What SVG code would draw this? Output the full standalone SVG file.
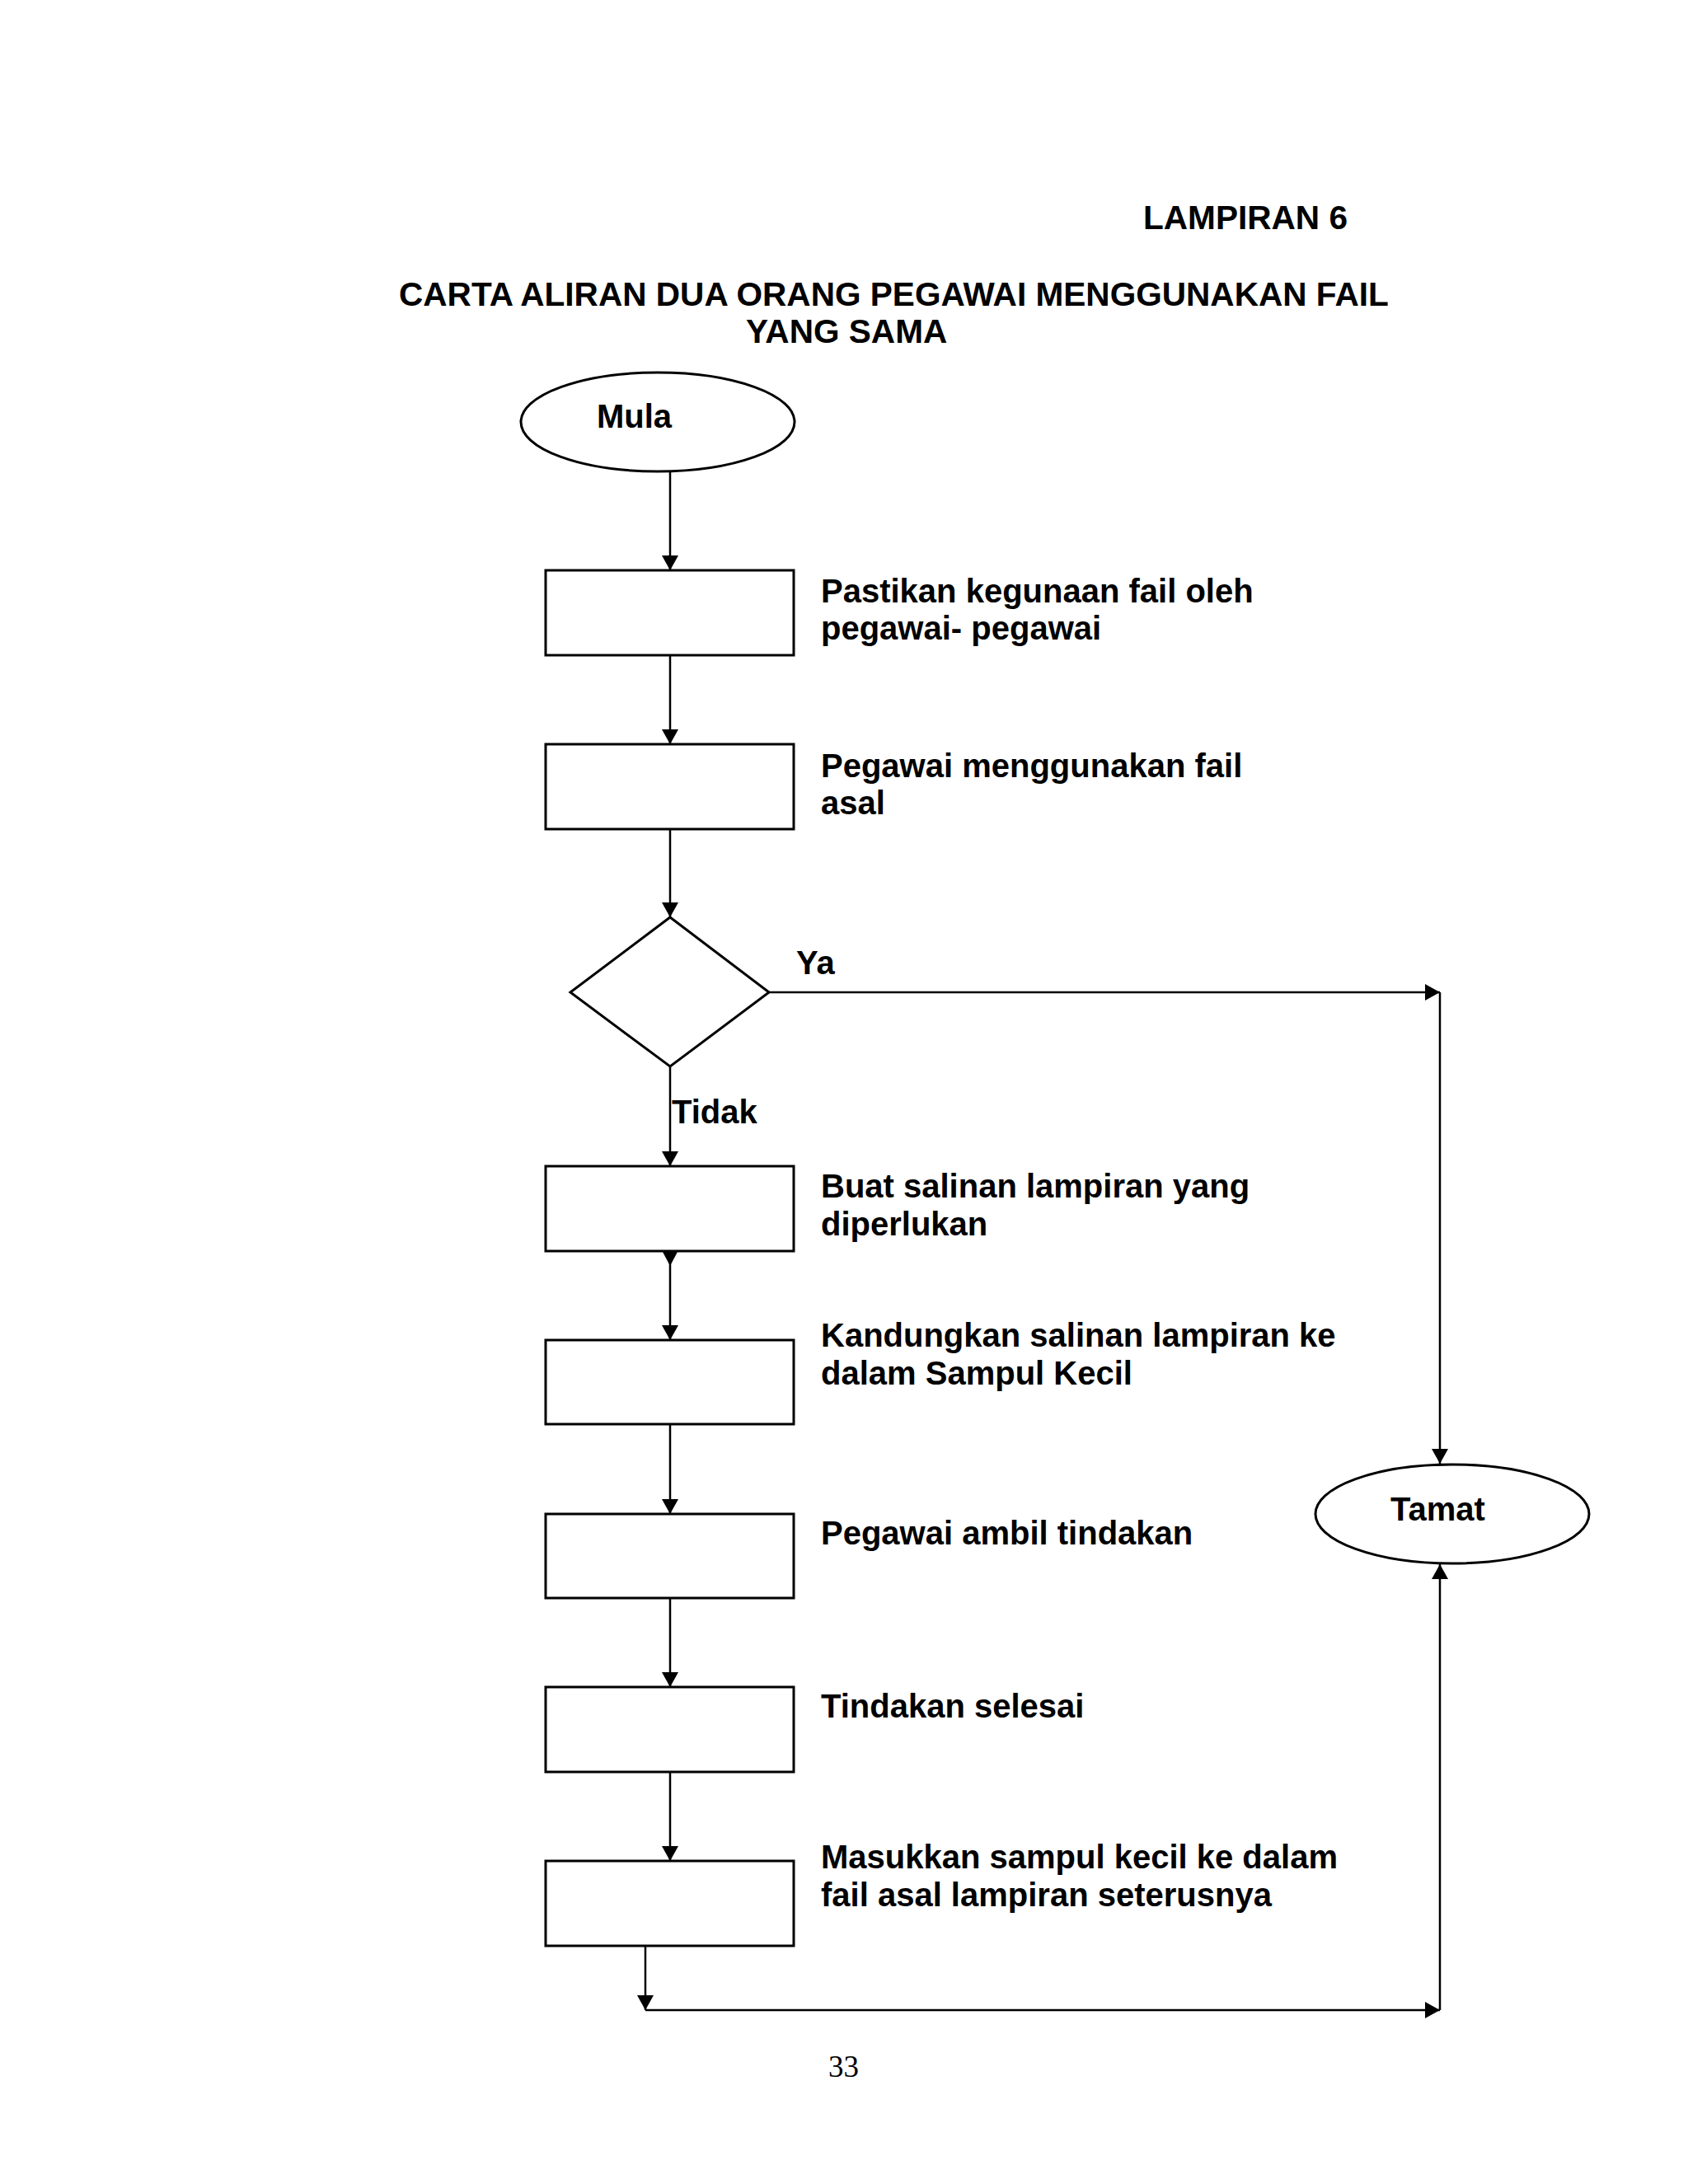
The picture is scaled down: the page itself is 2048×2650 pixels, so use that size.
<svg xmlns="http://www.w3.org/2000/svg" width="2048" height="2650" viewBox="0 0 2048 2650">
<style>
.t{font-family:"Liberation Sans",Arial,sans-serif;font-weight:bold;font-size:40px;fill:#000}
.h{font-size:40.6px}
.pg{font-family:"Liberation Serif","Times New Roman",serif;font-size:37px;fill:#000}
.box{fill:#fff;stroke:#000;stroke-width:3}
.ln{fill:none;stroke:#000;stroke-width:2.5}
</style>
<defs>
<marker id="arr" markerWidth="20" markerHeight="20" refX="18" refY="10" orient="auto" markerUnits="userSpaceOnUse">
<path d="M0,0 L18,10 L0,20 z" fill="#000"/>
</marker>
</defs>
<rect width="2048" height="2650" fill="#fff"/>
<g id="header">
<text class="t h" x="1387" y="278">LAMPIRAN 6</text>
<text class="t h" x="484" y="371">CARTA ALIRAN DUA ORANG PEGAWAI MENGGUNAKAN FAIL</text>
<text class="t h" x="905" y="416">YANG SAMA</text>
</g>
<g id="connectors">
<line class="ln" x1="813" y1="572" x2="813" y2="692" marker-end="url(#arr)"/>
<line class="ln" x1="813" y1="795" x2="813" y2="903" marker-end="url(#arr)"/>
<line class="ln" x1="813" y1="1006" x2="813" y2="1113" marker-end="url(#arr)"/>
<line class="ln" x1="813" y1="1294" x2="813" y2="1415" marker-end="url(#arr)"/>
<line class="ln" x1="813" y1="1518" x2="813" y2="1626" marker-end="url(#arr)"/>
<path d="M804,1519 L822,1519 L813,1536 z" fill="#000"/>
<line class="ln" x1="813" y1="1728" x2="813" y2="1837" marker-end="url(#arr)"/>
<line class="ln" x1="813" y1="1939" x2="813" y2="2047" marker-end="url(#arr)"/>
<line class="ln" x1="813" y1="2150" x2="813" y2="2258" marker-end="url(#arr)"/>
<line class="ln" x1="783" y1="2361" x2="783" y2="2439" marker-end="url(#arr)"/>
<line class="ln" x1="783" y1="2439" x2="1747" y2="2439" marker-end="url(#arr)"/>
<line class="ln" x1="1747" y1="2439" x2="1747" y2="1898" marker-end="url(#arr)"/>
<line class="ln" x1="933" y1="1204" x2="1747" y2="1204" marker-end="url(#arr)"/>
<line class="ln" x1="1747" y1="1204" x2="1747" y2="1776" marker-end="url(#arr)"/>
<text class="t" x="966" y="1182">Ya</text>
<text class="t" x="815" y="1363">Tidak</text>
</g>
<g id="mula">
<ellipse class="box" cx="798" cy="512" rx="166" ry="60"/>
<text class="t" x="724" y="519">Mula</text>
</g>
<g id="step1">
<rect class="box" x="662" y="692" width="301" height="103"/>
<text class="t" x="996" y="731">Pastikan kegunaan fail oleh</text>
<text class="t" x="996" y="776">pegawai- pegawai</text>
</g>
<g id="step2">
<rect class="box" x="662" y="903" width="301" height="103"/>
<text class="t" x="996" y="943">Pegawai menggunakan fail</text>
<text class="t" x="996" y="988">asal</text>
</g>
<g id="decision">
<polygon class="box" points="813,1113 933,1204 813,1294 692,1204"/>
</g>
<g id="step3">
<rect class="box" x="662" y="1415" width="301" height="103"/>
<text class="t" x="996" y="1453">Buat salinan lampiran yang</text>
<text class="t" x="996" y="1499">diperlukan</text>
</g>
<g id="step4">
<rect class="box" x="662" y="1626" width="301" height="102"/>
<text class="t" x="996" y="1634">Kandungkan salinan lampiran ke</text>
<text class="t" x="996" y="1680">dalam Sampul Kecil</text>
</g>
<g id="step5">
<rect class="box" x="662" y="1837" width="301" height="102"/>
<text class="t" x="996" y="1874">Pegawai ambil tindakan</text>
</g>
<g id="step6">
<rect class="box" x="662" y="2047" width="301" height="103"/>
<text class="t" x="996" y="2084">Tindakan selesai</text>
</g>
<g id="step7">
<rect class="box" x="662" y="2258" width="301" height="103"/>
<text class="t" x="996" y="2267">Masukkan sampul kecil ke dalam</text>
<text class="t" x="996" y="2313">fail asal lampiran seterusnya</text>
</g>
<g id="tamat">
<ellipse class="box" cx="1762" cy="1837" rx="166" ry="60"/>
<text class="t" x="1687" y="1845">Tamat</text>
</g>
<g id="footer">
<text class="pg" x="1005" y="2520">33</text>
</g>
</svg>
